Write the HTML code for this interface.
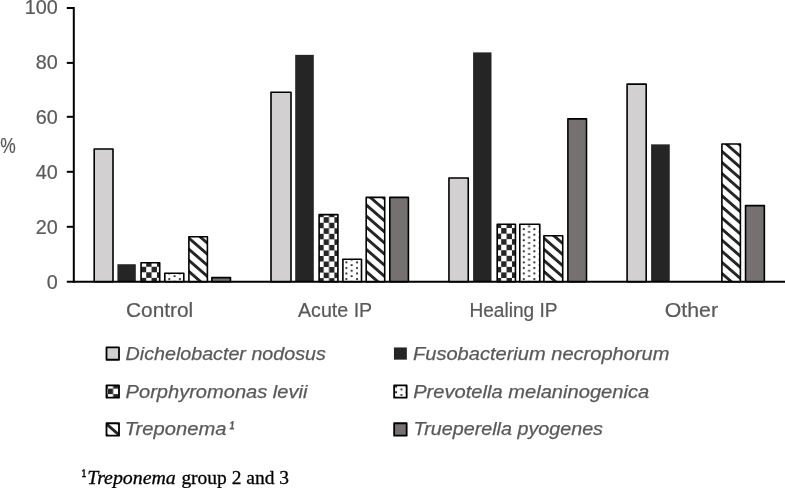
<!DOCTYPE html>
<html lang="en"><head><meta charset="utf-8"><title>Chart</title>
<style>html,body{margin:0;padding:0;background:#fff}svg{display:block}.s{font-family:"Liberation Sans",sans-serif;fill:#595959;stroke:#595959;stroke-width:0.2px}.i{font-family:"Liberation Sans",sans-serif;font-style:italic;fill:#595959;stroke:#595959;stroke-width:0.25px}.f{font-family:"Liberation Serif",serif;fill:#000;stroke:#000;stroke-width:0.3px}</style></head><body>
<svg width="785" height="488" viewBox="0 0 785 488">
<defs>
<pattern id="chk0" patternUnits="userSpaceOnUse" width="10.7500" height="11.0800" x="146.200" y="272.300"><rect width="10.7500" height="11.0800" fill="#fff"/><rect x="0" y="0" width="5.3750" height="5.5400" fill="#262626"/><rect x="5.3750" y="5.5400" width="5.3750" height="5.5400" fill="#262626"/></pattern>
<pattern id="dot0" patternUnits="userSpaceOnUse" width="10.6000" height="11.0800" x="167.300" y="277.050"><rect width="10.6000" height="11.0800" fill="#fff"/>
<rect x="1.0750" y="1.0750" width="1.85" height="1.85" fill="#1c1c1c"/>
<rect x="6.3750" y="3.8450" width="1.85" height="1.85" fill="#1c1c1c"/>
<rect x="1.0750" y="6.6150" width="1.85" height="1.85" fill="#1c1c1c"/>
<rect x="6.3750" y="9.3850" width="1.85" height="1.85" fill="#1c1c1c"/>
</pattern>
<pattern id="dia0" patternUnits="userSpaceOnUse" width="20" height="11.100" patternTransform="translate(0 79.350) skewY(41.023)"><rect width="20" height="11.100" fill="#fff"/><rect x="0" y="3.600" width="20" height="3.900" fill="#262626"/></pattern>
<pattern id="chk1" patternUnits="userSpaceOnUse" width="10.7500" height="11.0800" x="323.650" y="272.600"><rect width="10.7500" height="11.0800" fill="#fff"/><rect x="0" y="0" width="5.3750" height="5.5400" fill="#262626"/><rect x="5.3750" y="5.5400" width="5.3750" height="5.5400" fill="#262626"/></pattern>
<pattern id="dot1" patternUnits="userSpaceOnUse" width="10.6000" height="11.0800" x="344.400" y="277.050"><rect width="10.6000" height="11.0800" fill="#fff"/>
<rect x="1.0750" y="1.0750" width="1.85" height="1.85" fill="#1c1c1c"/>
<rect x="6.3750" y="3.8450" width="1.85" height="1.85" fill="#1c1c1c"/>
<rect x="1.0750" y="6.6150" width="1.85" height="1.85" fill="#1c1c1c"/>
<rect x="6.3750" y="9.3850" width="1.85" height="1.85" fill="#1c1c1c"/>
</pattern>
<pattern id="dia1" patternUnits="userSpaceOnUse" width="20" height="11.100" patternTransform="translate(0 -119.250) skewY(41.023)"><rect width="20" height="11.100" fill="#fff"/><rect x="0" y="3.600" width="20" height="3.900" fill="#262626"/></pattern>
<pattern id="chk2" patternUnits="userSpaceOnUse" width="10.7500" height="11.0800" x="501.200" y="272.400"><rect width="10.7500" height="11.0800" fill="#fff"/><rect x="0" y="0" width="5.3750" height="5.5400" fill="#262626"/><rect x="5.3750" y="5.5400" width="5.3750" height="5.5400" fill="#262626"/></pattern>
<pattern id="dot2" patternUnits="userSpaceOnUse" width="10.6000" height="11.0800" x="521.800" y="277.050"><rect width="10.6000" height="11.0800" fill="#fff"/>
<rect x="1.0750" y="1.0750" width="1.85" height="1.85" fill="#1c1c1c"/>
<rect x="6.3750" y="3.8450" width="1.85" height="1.85" fill="#1c1c1c"/>
<rect x="1.0750" y="6.6150" width="1.85" height="1.85" fill="#1c1c1c"/>
<rect x="6.3750" y="9.3850" width="1.85" height="1.85" fill="#1c1c1c"/>
</pattern>
<pattern id="dia2" patternUnits="userSpaceOnUse" width="20" height="11.100" patternTransform="translate(0 -229.450) skewY(41.023)"><rect width="20" height="11.100" fill="#fff"/><rect x="0" y="3.600" width="20" height="3.900" fill="#262626"/></pattern>
<pattern id="dia3" patternUnits="userSpaceOnUse" width="20" height="11.100" patternTransform="translate(0 -482.250) skewY(41.023)"><rect width="20" height="11.100" fill="#fff"/><rect x="0" y="3.600" width="20" height="3.900" fill="#262626"/></pattern>
<pattern id="chk" patternUnits="userSpaceOnUse" width="10.7500" height="11.0800" x="107.770" y="388.600"><rect width="10.7500" height="11.0800" fill="#fff"/><rect x="0" y="0" width="5.3750" height="5.5400" fill="#262626"/><rect x="5.3750" y="5.5400" width="5.3750" height="5.5400" fill="#262626"/></pattern>
<pattern id="dot" patternUnits="userSpaceOnUse" width="10.6000" height="11.0800" x="394.100" y="384.700"><rect width="10.6000" height="11.0800" fill="#fff"/>
<rect x="1.0750" y="1.0750" width="1.85" height="1.85" fill="#1c1c1c"/>
<rect x="6.3750" y="3.8450" width="1.85" height="1.85" fill="#1c1c1c"/>
<rect x="1.0750" y="6.6150" width="1.85" height="1.85" fill="#1c1c1c"/>
<rect x="6.3750" y="9.3850" width="1.85" height="1.85" fill="#1c1c1c"/>
</pattern>
<pattern id="dia" patternUnits="userSpaceOnUse" width="20" height="11.100" patternTransform="translate(0 325.810) skewY(41.023)"><rect width="20" height="11.100" fill="#fff"/><rect x="0" y="3.600" width="20" height="3.900" fill="#262626"/></pattern>
</defs>
<rect width="785" height="488" fill="#fff"/>
<rect x="94.20" y="148.96" width="18.80" height="132.74" fill="#d2d0d0" stroke="#000" stroke-width="1.60" stroke-linejoin="round"/>
<rect x="117.40" y="264.23" width="18.40" height="17.47" fill="#252525"/>
<rect x="141.05" y="262.81" width="18.65" height="18.89" fill="url(#chk0)" stroke="#000" stroke-width="1.60" stroke-linejoin="round"/>
<rect x="164.80" y="273.22" width="19.00" height="8.48" fill="url(#dot0)" stroke="#000" stroke-width="1.60" stroke-linejoin="round"/>
<rect x="188.90" y="236.81" width="18.50" height="44.89" fill="url(#dia0)" stroke="#000" stroke-width="1.60" stroke-linejoin="round"/>
<rect x="211.90" y="277.59" width="18.55" height="4.11" fill="#767171" stroke="#000" stroke-width="1.60" stroke-linejoin="round"/>
<rect x="271.00" y="92.30" width="20.00" height="189.40" fill="#d2d0d0" stroke="#000" stroke-width="1.60" stroke-linejoin="round"/>
<rect x="295.20" y="54.85" width="18.60" height="226.85" fill="#252525"/>
<rect x="319.10" y="214.64" width="18.80" height="67.06" fill="url(#chk1)" stroke="#000" stroke-width="1.60" stroke-linejoin="round"/>
<rect x="342.90" y="259.26" width="18.60" height="22.44" fill="url(#dot1)" stroke="#000" stroke-width="1.60" stroke-linejoin="round"/>
<rect x="366.20" y="197.40" width="18.50" height="84.30" fill="url(#dia1)" stroke="#000" stroke-width="1.60" stroke-linejoin="round"/>
<rect x="389.80" y="197.40" width="18.60" height="84.30" fill="#767171" stroke="#000" stroke-width="1.60" stroke-linejoin="round"/>
<rect x="448.95" y="177.97" width="19.30" height="103.73" fill="#d2d0d0" stroke="#000" stroke-width="1.60" stroke-linejoin="round"/>
<rect x="473.10" y="52.39" width="18.40" height="229.31" fill="#252525"/>
<rect x="497.20" y="224.22" width="18.25" height="57.48" fill="url(#chk2)" stroke="#000" stroke-width="1.60" stroke-linejoin="round"/>
<rect x="519.80" y="224.22" width="20.00" height="57.48" fill="url(#dot2)" stroke="#000" stroke-width="1.60" stroke-linejoin="round"/>
<rect x="543.90" y="235.72" width="18.80" height="45.98" fill="url(#dia2)" stroke="#000" stroke-width="1.60" stroke-linejoin="round"/>
<rect x="567.90" y="118.85" width="18.60" height="162.85" fill="#767171" stroke="#000" stroke-width="1.60" stroke-linejoin="round"/>
<rect x="627.10" y="84.09" width="19.10" height="197.61" fill="#d2d0d0" stroke="#000" stroke-width="1.60" stroke-linejoin="round"/>
<rect x="651.10" y="144.35" width="18.65" height="137.35" fill="#252525"/>
<rect x="721.90" y="144.03" width="18.50" height="137.67" fill="url(#dia3)" stroke="#000" stroke-width="1.60" stroke-linejoin="round"/>
<rect x="745.55" y="205.61" width="18.80" height="76.09" fill="#767171" stroke="#000" stroke-width="1.60" stroke-linejoin="round"/>
<path d="M73.80 7.00V282.70" stroke="#000" stroke-width="2" fill="none"/>
<path d="M66.80 281.70H785" stroke="#000" stroke-width="2" fill="none"/>
<path d="M66.80 226.80H73.80" stroke="#000" stroke-width="2" fill="none"/>
<path d="M66.80 171.80H73.80" stroke="#000" stroke-width="2" fill="none"/>
<path d="M66.80 116.80H73.80" stroke="#000" stroke-width="2" fill="none"/>
<path d="M66.80 62.90H73.80" stroke="#000" stroke-width="2" fill="none"/>
<path d="M66.80 8.00H73.80" stroke="#000" stroke-width="2" fill="none"/>
<text class="s" x="57.8" y="288.60" font-size="19.8" text-anchor="end">0</text>
<text class="s" x="57.8" y="233.85" font-size="19.8" text-anchor="end">20</text>
<text class="s" x="57.8" y="178.75" font-size="19.8" text-anchor="end">40</text>
<text class="s" x="57.8" y="124.05" font-size="19.8" text-anchor="end">60</text>
<text class="s" x="57.8" y="69.05" font-size="19.8" text-anchor="end">80</text>
<text class="s" x="57.8" y="13.80" font-size="19.8" text-anchor="end">100</text>
<text class="s" x="0.3" y="152.5" font-size="21.9" textLength="15.5" lengthAdjust="spacingAndGlyphs">%</text>
<text class="s" x="126.0" y="316.7" font-size="19.5" textLength="67.2" lengthAdjust="spacingAndGlyphs">Control</text>
<text class="s" x="298.0" y="316.7" font-size="19.5" textLength="74.2" lengthAdjust="spacingAndGlyphs">Acute IP</text>
<text class="s" x="469.4" y="316.7" font-size="19.5" textLength="88.1" lengthAdjust="spacingAndGlyphs">Healing IP</text>
<text class="s" x="664.7" y="316.7" font-size="19.5" textLength="53.3" lengthAdjust="spacingAndGlyphs">Other</text>
<rect x="106.50" y="347.35" width="12.5" height="12.4" fill="#d2d0d0" stroke="#000" stroke-width="1.8" stroke-linejoin="round"/>
<text class="i" x="125.6" y="359.7" font-size="19.2" textLength="200.2" lengthAdjust="spacingAndGlyphs">Dichelobacter nodosus</text>
<rect x="106.50" y="385.30" width="12.5" height="12.4" fill="url(#chk)" stroke="#000" stroke-width="1.8" stroke-linejoin="round"/>
<text class="i" x="125.6" y="397.6" font-size="19.2" textLength="181.8" lengthAdjust="spacingAndGlyphs">Porphyromonas levii</text>
<rect x="106.50" y="423.25" width="12.5" height="12.4" fill="url(#dia)" stroke="#000" stroke-width="1.8" stroke-linejoin="round"/>
<text class="i" x="124.8" y="435.2" font-size="19.2" textLength="101.6" lengthAdjust="spacingAndGlyphs">Treponema</text>
<rect x="393.95" y="347.45" width="12.9" height="12.2" fill="#252525"/>
<text class="i" x="413.0" y="359.7" font-size="19.2" textLength="256.5" lengthAdjust="spacingAndGlyphs">Fusobacterium necrophorum</text>
<rect x="394.15" y="385.30" width="12.5" height="12.4" fill="url(#dot)" stroke="#000" stroke-width="1.8" stroke-linejoin="round"/>
<text class="i" x="413.2" y="397.6" font-size="19.2" textLength="236.0" lengthAdjust="spacingAndGlyphs">Prevotella melaninogenica</text>
<rect x="394.15" y="423.25" width="12.5" height="12.4" fill="#767171" stroke="#000" stroke-width="1.8" stroke-linejoin="round"/>
<text class="i" x="413.6" y="435.2" font-size="19.2" textLength="189.4" lengthAdjust="spacingAndGlyphs">Trueperella pyogenes</text>
<text class="i" x="228.9" y="436.8" font-size="22.3" font-weight="bold" textLength="5.2" lengthAdjust="spacingAndGlyphs">¹</text>
<text x="81.5" y="485.1" font-size="22.5" font-weight="bold" textLength="4.9" lengthAdjust="spacingAndGlyphs" style="font-family:'Liberation Sans',sans-serif" fill="#000">¹</text>
<text class="f" x="87.2" y="483.8" font-size="19.5" font-style="italic" textLength="88.6" lengthAdjust="spacingAndGlyphs">Treponema</text>
<text class="f" x="181.4" y="483.8" font-size="19.5" textLength="107.6" lengthAdjust="spacingAndGlyphs">group 2 and 3</text>
</svg></body></html>
